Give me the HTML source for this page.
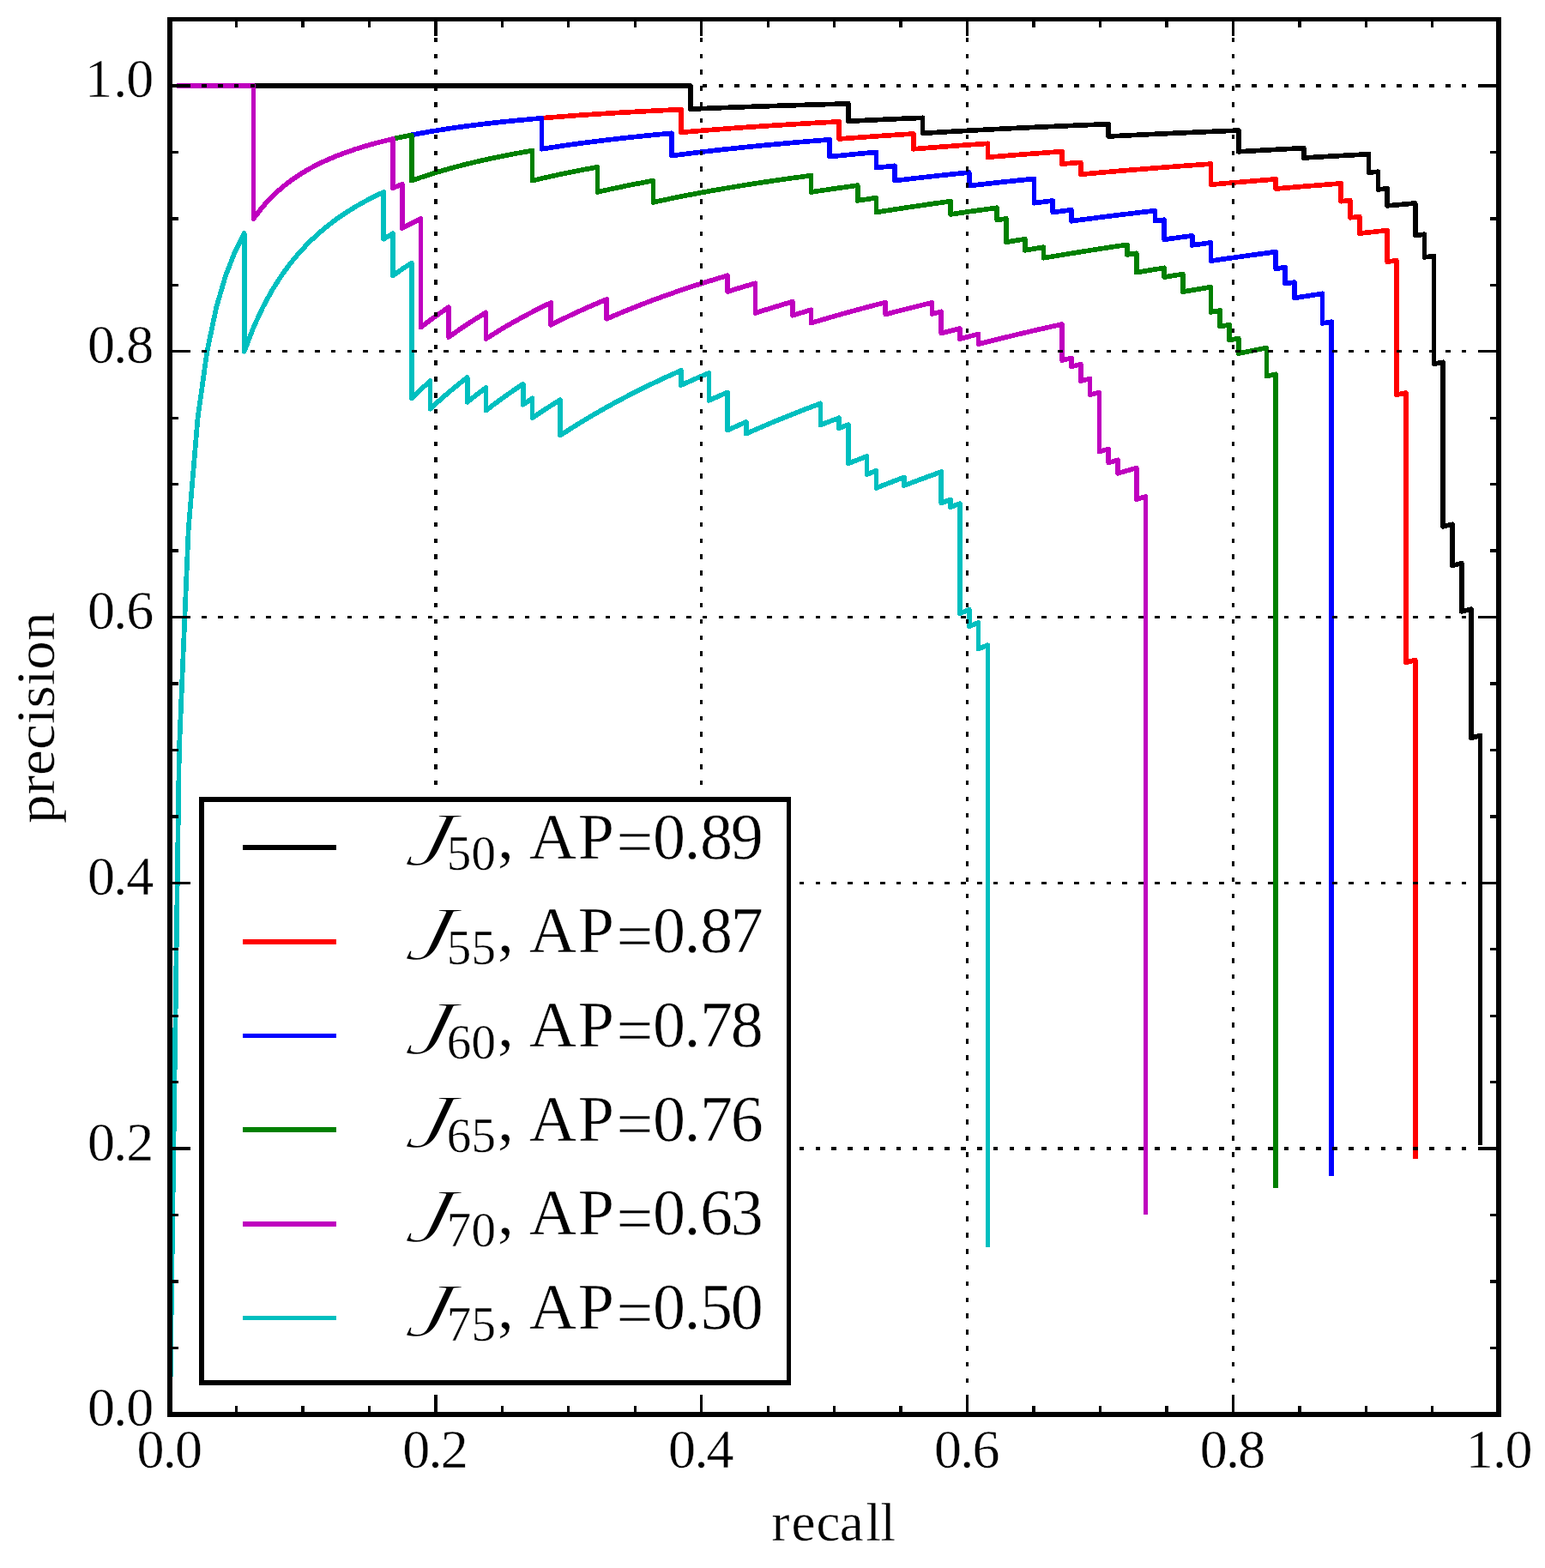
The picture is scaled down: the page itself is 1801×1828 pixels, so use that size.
<!DOCTYPE html>
<html lang="en"><head><meta charset="utf-8"><title>Precision-recall curves</title>
<style>
html,body{margin:0;padding:0;background:#fff;}
body{width:1801px;height:1828px;overflow:hidden;}
svg{display:block;}
text{font-family:"Liberation Serif","DejaVu Serif",serif;fill:#000;stroke:#fff;stroke-width:0.4px;stroke-linejoin:round;}
.tk{font-size:64px;}
.lb{font-size:63px;}
.lg{font-size:76px;stroke-width:0.5px;}
.sub{font-size:57px;}
.cal{font-family:"Liberation Serif","DejaVu Serif",serif;font-style:italic;font-size:90px;stroke-width:2px;}
.cv{fill:none;stroke-width:5.70;stroke-linejoin:round;stroke-linecap:square;}
.gh{fill:none;stroke:#000;stroke-width:3.35;stroke-dasharray:5.7 13.13;}
.gv{fill:none;stroke:#000;stroke-width:3.35;stroke-dasharray:5.5 13.33;}
.tkm{stroke:#000;stroke-width:3.35;fill:none;}
.sp{stroke:#000;fill:none;}
</style></head><body>
<svg width="1801" height="1828" viewBox="0 0 1801 1828" shape-rendering="crispEdges">
<rect x="0" y="0" width="1801" height="1828" fill="#fff"/>
<defs><clipPath id="ax"><rect x="198.00" y="22.40" width="1549.10" height="1626.65"/></clipPath></defs>
<g clip-path="url(#ax)">
<path class="cv" stroke="#000000" d="M208.88 100.00L219.72 100.00L230.55 100.00L241.38 100.00L252.22 100.00L263.05 100.00L273.88 100.00L284.72 100.00L295.55 100.00L306.39 100.00L317.22 100.00L328.05 100.00L338.89 100.00L349.72 100.00L360.55 100.00L371.39 100.00L382.22 100.00L393.05 100.00L403.89 100.00L414.72 100.00L425.55 100.00L436.39 100.00L447.22 100.00L458.06 100.00L468.89 100.00L479.72 100.00L490.56 100.00L501.39 100.00L512.22 100.00L523.06 100.00L533.89 100.00L544.72 100.00L555.56 100.00L566.39 100.00L577.22 100.00L588.06 100.00L598.89 100.00L609.73 100.00L620.56 100.00L631.39 100.00L642.23 100.00L653.06 100.00L663.89 100.00L674.73 100.00L685.56 100.00L696.39 100.00L707.23 100.00L718.06 100.00L728.89 100.00L739.73 100.00L750.56 100.00L761.40 100.00L772.23 100.00L783.06 100.00L793.90 100.00L804.73 100.00L804.73 127.17L815.56 126.71L826.40 126.25L837.23 125.82L848.06 125.39L858.90 124.98L869.73 124.59L880.56 124.20L891.40 123.83L902.23 123.47L913.07 123.12L923.90 122.78L934.73 122.45L945.57 122.13L956.40 121.82L967.23 121.51L978.07 121.22L988.90 120.93L988.90 141.31L999.73 140.76L1010.57 140.23L1021.40 139.72L1032.23 139.21L1043.07 138.72L1053.90 138.25L1064.74 137.78L1075.57 137.32L1075.57 155.32L1086.40 154.67L1097.24 154.03L1108.07 153.41L1118.90 152.81L1129.74 152.21L1140.57 151.63L1151.40 151.06L1162.24 150.51L1173.07 149.97L1183.90 149.43L1194.74 148.91L1205.57 148.40L1216.41 147.91L1227.24 147.42L1238.07 146.94L1248.91 146.47L1259.74 146.01L1270.57 145.56L1281.41 145.12L1292.24 144.68L1292.24 159.01L1303.07 158.45L1313.91 157.90L1324.74 157.37L1335.57 156.84L1346.41 156.33L1357.24 155.82L1368.08 155.32L1378.91 154.83L1389.74 154.35L1400.58 153.88L1411.41 153.41L1422.24 152.96L1433.08 152.51L1443.91 152.07L1443.91 176.81L1454.74 176.18L1465.58 175.56L1476.41 174.95L1487.24 174.35L1498.08 173.76L1508.91 173.18L1519.75 172.61L1519.75 184.05L1530.58 183.40L1541.41 182.77L1552.25 182.14L1563.08 181.52L1573.91 180.92L1584.75 180.32L1595.58 179.73L1595.58 201.02L1606.41 200.29L1606.41 220.84L1617.25 219.99L1617.25 239.84L1628.08 238.87L1638.91 237.92L1649.75 236.98L1649.75 274.39L1660.58 273.24L1660.58 299.86L1671.42 298.58L1671.42 424.20L1682.25 422.32L1682.25 613.80L1693.08 611.30L1693.08 659.34L1703.92 656.77L1703.92 712.85L1714.75 710.19L1714.75 860.39L1725.58 857.64L1725.58 1332.43"/>
<path class="cv" stroke="#ff0000" d="M208.88 100.00L219.72 100.00L230.55 100.00L241.38 100.00L252.22 100.00L263.05 100.00L273.88 100.00L284.72 100.00L295.55 100.00L295.55 254.89L306.39 240.81L317.22 229.08L328.05 219.15L338.89 210.64L349.72 203.26L360.55 196.81L371.39 191.11L382.22 186.05L393.05 181.52L403.89 177.45L414.72 173.76L425.55 170.41L436.39 167.35L447.22 164.54L458.06 161.96L468.89 159.58L479.72 157.37L490.56 155.32L501.39 153.41L512.22 151.63L523.06 149.97L533.89 148.40L544.72 146.94L555.56 145.56L566.39 144.26L577.22 143.03L588.06 141.86L598.89 140.76L609.73 139.72L620.56 138.72L631.39 137.78L642.23 136.88L653.06 136.02L663.89 135.20L674.73 134.42L685.56 133.67L696.39 132.96L707.23 132.27L718.06 131.61L728.89 130.98L739.73 130.37L750.56 129.79L761.40 129.23L772.23 128.68L783.06 128.16L793.90 127.66L793.90 154.35L804.73 153.41L815.56 152.51L826.40 151.63L837.23 150.79L848.06 149.97L858.90 149.17L869.73 148.40L880.56 147.66L891.40 146.94L902.23 146.24L913.07 145.56L923.90 144.90L934.73 144.26L945.57 143.63L956.40 143.03L967.23 142.44L978.07 141.86L978.07 161.96L988.90 161.14L999.73 160.35L1010.57 159.58L1021.40 158.82L1032.23 158.09L1043.07 157.37L1053.90 156.67L1064.74 155.99L1064.74 173.76L1075.57 172.89L1086.40 172.04L1097.24 171.22L1108.07 170.41L1118.90 169.62L1129.74 168.84L1140.57 168.09L1151.40 167.35L1151.40 183.28L1162.24 182.39L1173.07 181.52L1183.90 180.67L1194.74 179.84L1205.57 179.03L1216.41 178.23L1227.24 177.45L1238.07 176.68L1238.07 191.11L1248.91 190.23L1259.74 189.36L1259.74 203.26L1270.57 202.29L1281.41 201.33L1292.24 200.39L1303.07 199.47L1313.91 198.57L1324.74 197.68L1335.57 196.81L1346.41 195.95L1357.24 195.11L1368.08 194.28L1378.91 193.47L1389.74 192.67L1400.58 191.89L1411.41 191.11L1411.41 215.21L1422.24 214.27L1433.08 213.34L1443.91 212.42L1454.74 211.52L1465.58 210.64L1476.41 209.77L1487.24 208.91L1487.24 220.07L1498.08 219.15L1508.91 218.24L1519.75 217.34L1530.58 216.46L1541.41 215.59L1552.25 214.74L1563.08 213.89L1563.08 234.69L1573.91 233.72L1573.91 253.80L1584.75 252.71L1584.75 272.11L1595.58 270.92L1606.41 269.75L1617.25 268.59L1617.25 305.16L1628.08 303.81L1628.08 460.22L1638.91 458.14L1638.91 772.31L1649.75 769.46L1649.75 1348.14"/>
<path class="cv" stroke="#0000ff" d="M208.88 100.00L219.72 100.00L230.55 100.00L241.38 100.00L252.22 100.00L263.05 100.00L273.88 100.00L284.72 100.00L295.55 100.00L295.55 254.89L306.39 240.81L317.22 229.08L328.05 219.15L338.89 210.64L349.72 203.26L360.55 196.81L371.39 191.11L382.22 186.05L393.05 181.52L403.89 177.45L414.72 173.76L425.55 170.41L436.39 167.35L447.22 164.54L458.06 161.96L468.89 159.58L479.72 157.37L490.56 155.32L501.39 153.41L512.22 151.63L523.06 149.97L533.89 148.40L544.72 146.94L555.56 145.56L566.39 144.26L577.22 143.03L588.06 141.86L598.89 140.76L609.73 139.72L620.56 138.72L631.39 137.78L631.39 173.76L642.23 172.04L653.06 170.41L663.89 168.84L674.73 167.35L685.56 165.91L696.39 164.54L707.23 163.22L718.06 161.96L728.89 160.74L739.73 159.58L750.56 158.45L761.40 157.37L772.23 156.33L783.06 155.32L783.06 181.52L793.90 180.12L804.73 178.76L815.56 177.45L826.40 176.18L837.23 174.95L848.06 173.76L858.90 172.61L869.73 171.49L880.56 170.41L891.40 169.36L902.23 168.34L913.07 167.35L923.90 166.38L934.73 165.45L945.57 164.54L956.40 163.66L967.23 162.80L967.23 182.61L978.07 181.52L988.90 180.46L999.73 179.43L1010.57 178.43L1021.40 177.45L1021.40 195.61L1032.23 194.45L1043.07 193.31L1043.07 210.64L1053.90 209.34L1064.74 208.07L1075.57 206.82L1086.40 205.61L1097.24 204.42L1108.07 203.26L1118.90 202.13L1129.74 201.02L1129.74 216.59L1140.57 215.35L1151.40 214.13L1162.24 212.94L1173.07 211.78L1183.90 210.64L1194.74 209.52L1205.57 208.43L1205.57 236.67L1216.41 235.35L1227.24 234.04L1227.24 247.52L1238.07 246.13L1248.91 244.76L1248.91 257.76L1259.74 256.32L1270.57 254.89L1281.41 253.50L1292.24 252.13L1303.07 250.78L1313.91 249.46L1324.74 248.16L1335.57 246.88L1346.41 245.63L1346.41 257.52L1357.24 256.20L1357.24 279.22L1368.08 277.75L1378.91 276.30L1389.74 274.88L1389.74 285.87L1400.58 284.40L1411.41 282.95L1411.41 304.13L1422.24 302.56L1433.08 301.01L1443.91 299.49L1454.74 297.99L1465.58 296.51L1476.41 295.05L1487.24 293.62L1487.24 313.26L1498.08 311.73L1498.08 330.69L1508.91 329.07L1508.91 347.40L1519.75 345.70L1530.58 344.01L1541.41 342.35L1541.41 376.96L1552.25 375.14L1552.25 1368.34"/>
<path class="cv" stroke="#008000" d="M208.88 100.00L219.72 100.00L230.55 100.00L241.38 100.00L252.22 100.00L263.05 100.00L273.88 100.00L284.72 100.00L295.55 100.00L295.55 254.89L306.39 240.81L317.22 229.08L328.05 219.15L338.89 210.64L349.72 203.26L360.55 196.81L371.39 191.11L382.22 186.05L393.05 181.52L403.89 177.45L414.72 173.76L425.55 170.41L436.39 167.35L447.22 164.54L458.06 161.96L468.89 159.58L479.72 157.37L479.72 210.64L490.56 206.82L501.39 203.26L512.22 199.93L523.06 196.81L533.89 193.88L544.72 191.11L555.56 188.51L566.39 186.05L577.22 183.73L588.06 181.52L598.89 179.43L609.73 177.45L620.56 175.56L620.56 210.64L631.39 208.07L642.23 205.61L653.06 203.26L663.89 201.02L674.73 198.87L685.56 196.81L696.39 194.83L696.39 223.92L707.23 221.49L718.06 219.15L728.89 216.90L739.73 214.74L750.56 212.65L761.40 210.64L761.40 235.87L772.23 233.53L783.06 231.27L793.90 229.08L804.73 226.96L815.56 224.92L826.40 222.93L837.23 221.01L848.06 219.15L858.90 217.34L869.73 215.59L880.56 213.89L891.40 212.24L902.23 210.64L913.07 209.08L923.90 207.57L934.73 206.09L945.57 204.66L945.57 223.92L956.40 222.29L967.23 220.70L978.07 219.15L988.90 217.64L999.73 216.17L999.73 233.86L1010.57 232.23L1021.40 230.63L1021.40 247.52L1032.23 245.78L1043.07 244.09L1053.90 242.43L1064.74 240.81L1075.57 239.23L1086.40 237.68L1097.24 236.17L1108.07 234.69L1108.07 249.90L1118.90 248.30L1129.74 246.74L1140.57 245.21L1151.40 243.72L1162.24 242.25L1162.24 256.46L1173.07 254.89L1173.07 282.23L1183.90 280.46L1194.74 278.73L1194.74 291.77L1205.57 289.97L1216.41 288.19L1216.41 300.79L1227.24 298.95L1238.07 297.14L1248.91 295.36L1259.74 293.62L1270.57 291.91L1281.41 290.22L1292.24 288.57L1303.07 286.94L1313.91 285.34L1313.91 296.90L1324.74 295.25L1324.74 317.62L1335.57 315.84L1346.41 314.08L1357.24 312.36L1357.24 323.05L1368.08 321.28L1378.91 319.54L1378.91 340.15L1389.74 338.30L1400.58 336.48L1411.41 334.69L1411.41 363.90L1422.24 361.95L1422.24 380.61L1433.08 378.59L1433.08 396.61L1443.91 394.52L1443.91 411.94L1454.74 409.79L1465.58 407.67L1476.41 405.58L1476.41 438.51L1487.24 436.29L1487.24 1381.81"/>
<path class="cv" stroke="#bf00bf" d="M208.88 100.00L219.72 100.00L230.55 100.00L241.38 100.00L252.22 100.00L263.05 100.00L273.88 100.00L284.72 100.00L295.55 100.00L295.55 254.89L306.39 240.81L317.22 229.08L328.05 219.15L338.89 210.64L349.72 203.26L360.55 196.81L371.39 191.11L382.22 186.05L393.05 181.52L403.89 177.45L414.72 173.76L425.55 170.41L436.39 167.35L447.22 164.54L458.06 161.96L458.06 219.15L468.89 214.74L468.89 265.96L479.72 260.24L490.56 254.89L490.56 381.63L501.39 373.34L512.22 365.53L523.06 358.16L523.06 393.04L533.89 385.33L544.72 378.02L555.56 371.07L566.39 364.45L566.39 395.04L577.22 388.18L588.06 381.63L598.89 375.37L609.73 369.38L620.56 363.65L631.39 358.16L642.23 352.89L642.23 378.81L653.06 373.34L663.89 368.09L674.73 363.03L685.56 358.16L696.39 353.46L707.23 348.94L707.23 371.75L718.06 367.06L728.89 362.53L739.73 358.16L750.56 353.93L761.40 349.83L772.23 345.87L783.06 342.02L793.90 338.30L804.73 334.69L815.56 331.19L826.40 327.79L837.23 324.49L848.06 321.28L848.06 339.98L858.90 336.65L869.73 333.40L880.56 330.25L880.56 364.95L891.40 361.51L902.23 358.16L913.07 354.89L923.90 351.70L923.90 367.72L934.73 364.45L945.57 361.27L945.57 376.60L956.40 373.34L967.23 370.17L978.07 367.06L988.90 364.03L999.73 361.06L1010.57 358.16L1021.40 355.32L1032.23 352.55L1032.23 366.49L1043.07 363.65L1053.90 360.88L1064.74 358.16L1075.57 355.50L1086.40 352.89L1086.40 365.98L1097.24 363.32L1097.24 388.53L1108.07 385.73L1118.90 382.98L1118.90 395.04L1129.74 392.25L1140.57 389.52L1140.57 401.18L1151.40 398.42L1162.24 395.71L1173.07 393.04L1183.90 390.43L1194.74 387.86L1205.57 385.33L1216.41 382.85L1227.24 380.41L1238.07 378.02L1238.07 420.03L1248.91 417.41L1248.91 427.42L1259.74 424.78L1259.74 444.21L1270.57 441.50L1270.57 460.22L1281.41 457.45L1281.41 526.52L1292.24 523.45L1292.24 539.42L1303.07 536.32L1303.07 551.78L1313.91 548.66L1324.74 545.59L1324.74 582.12L1335.57 578.95L1335.57 1413.24"/>
<path class="cv" stroke="#00bfbf" d="M198.05 1648.95L208.88 874.48L219.72 616.32L230.55 487.24L241.38 409.79L252.22 358.16L263.05 321.28L273.88 293.62L284.72 272.11L284.72 409.79L295.55 381.63L306.39 358.16L317.22 338.30L328.05 321.28L338.89 306.53L349.72 293.62L360.55 282.23L371.39 272.11L382.22 263.05L393.05 254.89L403.89 247.52L414.72 240.81L425.55 234.69L436.39 229.08L447.22 223.92L447.22 278.73L458.06 272.11L458.06 321.28L468.89 313.65L479.72 306.53L479.72 464.46L490.56 454.05L501.39 444.21L501.39 476.77L512.22 466.86L523.06 457.45L533.89 448.51L544.72 440.01L544.72 468.80L555.56 460.22L566.39 452.03L566.39 478.63L577.22 470.40L588.06 462.52L598.89 454.97L609.73 447.72L609.73 471.75L620.56 464.46L620.56 487.24L631.39 479.93L642.23 472.90L653.06 466.12L653.06 507.62L663.89 500.59L674.73 493.80L685.56 487.24L696.39 480.89L707.23 474.75L718.06 468.80L728.89 463.04L739.73 457.45L750.56 452.03L761.40 446.78L772.23 441.68L783.06 436.73L793.90 431.92L793.90 449.06L804.73 444.21L815.56 439.50L826.40 434.91L826.40 466.86L837.23 462.09L848.06 457.45L848.06 501.58L858.90 496.68L869.73 491.90L869.73 505.68L880.56 500.90L891.40 496.24L902.23 491.69L913.07 487.24L923.90 482.89L934.73 478.63L945.57 474.47L956.40 470.40L956.40 495.48L967.23 491.31L978.07 487.24L978.07 499.21L988.90 495.14L988.90 540.39L999.73 536.11L1010.57 531.92L1010.57 552.99L1021.40 548.76L1021.40 568.95L1032.23 564.69L1043.07 560.50L1053.90 556.39L1053.90 566.06L1064.74 561.97L1075.57 557.95L1086.40 554.00L1097.24 550.12L1097.24 586.45L1108.07 582.46L1108.07 591.13L1118.90 587.17L1118.90 715.19L1129.74 710.85L1129.74 730.26L1140.57 725.95L1140.57 756.51L1151.40 752.19L1151.40 1451.40"/>
</g>
<path class="gv" d="M507.89 1649.85V22.40M817.73 1649.85V22.40M1127.57 1649.85V22.40M1437.41 1649.85V22.40"/>
<path class="gh" d="M197.37 1339.16H1747.10M197.37 1029.37H1747.10M197.37 719.58H1747.10M197.37 409.79H1747.10M197.37 100.00H1747.10"/>
<path class="tkm" d="M198.05 1649.05v-19.33M198.05 22.40v19.33M275.51 1649.05v-9.92M275.51 22.40v9.92M352.97 1649.05v-9.92M352.97 22.40v9.92M430.43 1649.05v-9.92M430.43 22.40v9.92M507.89 1649.05v-19.33M507.89 22.40v19.33M585.35 1649.05v-9.92M585.35 22.40v9.92M662.81 1649.05v-9.92M662.81 22.40v9.92M740.27 1649.05v-9.92M740.27 22.40v9.92M817.73 1649.05v-19.33M817.73 22.40v19.33M895.19 1649.05v-9.92M895.19 22.40v9.92M972.65 1649.05v-9.92M972.65 22.40v9.92M1050.11 1649.05v-9.92M1050.11 22.40v9.92M1127.57 1649.05v-19.33M1127.57 22.40v19.33M1205.03 1649.05v-9.92M1205.03 22.40v9.92M1282.49 1649.05v-9.92M1282.49 22.40v9.92M1359.95 1649.05v-9.92M1359.95 22.40v9.92M1437.41 1649.05v-19.33M1437.41 22.40v19.33M1514.87 1649.05v-9.92M1514.87 22.40v9.92M1592.33 1649.05v-9.92M1592.33 22.40v9.92M1669.79 1649.05v-9.92M1669.79 22.40v9.92M1747.25 1649.05v-19.33M1747.25 22.40v19.33M198.00 1648.95h19.33M1747.10 1648.95h-19.33M198.00 1571.50h9.92M1747.10 1571.50h-9.92M198.00 1494.06h9.92M1747.10 1494.06h-9.92M198.00 1416.61h9.92M1747.10 1416.61h-9.92M198.00 1339.16h19.33M1747.10 1339.16h-19.33M198.00 1261.71h9.92M1747.10 1261.71h-9.92M198.00 1184.26h9.92M1747.10 1184.26h-9.92M198.00 1106.82h9.92M1747.10 1106.82h-9.92M198.00 1029.37h19.33M1747.10 1029.37h-19.33M198.00 951.92h9.92M1747.10 951.92h-9.92M198.00 874.48h9.92M1747.10 874.48h-9.92M198.00 797.03h9.92M1747.10 797.03h-9.92M198.00 719.58h19.33M1747.10 719.58h-19.33M198.00 642.13h9.92M1747.10 642.13h-9.92M198.00 564.68h9.92M1747.10 564.68h-9.92M198.00 487.24h9.92M1747.10 487.24h-9.92M198.00 409.79h19.33M1747.10 409.79h-19.33M198.00 332.34h9.92M1747.10 332.34h-9.92M198.00 254.89h9.92M1747.10 254.89h-9.92M198.00 177.45h9.92M1747.10 177.45h-9.92M198.00 100.00h19.33M1747.10 100.00h-19.33M198.00 22.55h9.92M1747.10 22.55h-9.92"/>
<path class="sp" stroke-width="5.7" d="M198 20V1652M1747.1 20V1652M195 22.45H1750M195 1649H1750"/>
<text class="tk" y="1711.3" x="159.5 189.8 204.0">0.0</text>
<text class="tk" y="1662.2" x="102.1 132.3 147.2">0.0</text>
<text class="tk" y="1711.3" x="469.3 499.6 513.8">0.2</text>
<text class="tk" y="1352.5" x="102.1 132.3 147.2">0.2</text>
<text class="tk" y="1711.3" x="779.1 809.4 823.6">0.4</text>
<text class="tk" y="1042.7" x="102.1 132.3 147.2">0.4</text>
<text class="tk" y="1711.3" x="1089.0 1119.3 1133.5">0.6</text>
<text class="tk" y="732.9" x="102.1 132.3 147.2">0.6</text>
<text class="tk" y="1711.3" x="1398.8 1429.1 1443.3">0.8</text>
<text class="tk" y="423.1" x="102.1 132.3 147.2">0.8</text>
<text class="tk" y="1711.3" x="1708.7 1739.9 1754.4">1.0</text>
<text class="tk" y="113.3" x="99.1 132.3 147.2">1.0</text>
<text class="lb" x="899.6 922.6 951.4 978.7 1009.5 1026.4" y="1795.9">recall</text>
<text class="lb" transform="translate(62.6 959.9) rotate(-90)" x="0" y="0" textLength="246.5" lengthAdjust="spacingAndGlyphs">precision</text>
<rect x="232" y="929" width="690" height="686" fill="#fff"/>
<path class="sp" stroke-width="5.7" d="M235 929V1615M919.5 929V1615M232 932H922M232 1612H922"/>
<g>
<path d="M283.2 988.16H392" stroke="#000000" stroke-width="5.70" fill="none"/>
<text class="cal" transform="translate(470.5 1009.4) skewX(-14) scale(1.25 1)">J</text>
<text y="1000.6"><tspan class="sub" x="520.7 549.4" dy="13.7 0">50</tspan><tspan class="lg" x="580 600 617.1 673.8 718.6 761.1 797.6 816 851.8" dy="-13.7 0 0 0 6.6 -6.6 0 0 0">, AP=0.89</tspan></text>
</g>
<g>
<path d="M283.2 1097.83H392" stroke="#ff0000" stroke-width="5.70" fill="none"/>
<text class="cal" transform="translate(470.5 1119.1) skewX(-14) scale(1.25 1)">J</text>
<text y="1110.3"><tspan class="sub" x="520.7 549.4" dy="13.7 0">55</tspan><tspan class="lg" x="580 600 617.1 673.8 718.6 761.1 797.6 816 851.8" dy="-13.7 0 0 0 6.6 -6.6 0 0 0">, AP=0.87</tspan></text>
</g>
<g>
<path d="M283.2 1207.50H392" stroke="#0000ff" stroke-width="5.70" fill="none"/>
<text class="cal" transform="translate(470.5 1228.8) skewX(-14) scale(1.25 1)">J</text>
<text y="1220.0"><tspan class="sub" x="520.7 549.4" dy="13.7 0">60</tspan><tspan class="lg" x="580 600 617.1 673.8 718.6 761.1 797.6 816 851.8" dy="-13.7 0 0 0 6.6 -6.6 0 0 0">, AP=0.78</tspan></text>
</g>
<g>
<path d="M283.2 1317.17H392" stroke="#008000" stroke-width="5.70" fill="none"/>
<text class="cal" transform="translate(470.5 1338.4) skewX(-14) scale(1.25 1)">J</text>
<text y="1329.6"><tspan class="sub" x="520.7 549.4" dy="13.7 0">65</tspan><tspan class="lg" x="580 600 617.1 673.8 718.6 761.1 797.6 816 851.8" dy="-13.7 0 0 0 6.6 -6.6 0 0 0">, AP=0.76</tspan></text>
</g>
<g>
<path d="M283.2 1426.84H392" stroke="#bf00bf" stroke-width="5.70" fill="none"/>
<text class="cal" transform="translate(470.5 1448.1) skewX(-14) scale(1.25 1)">J</text>
<text y="1439.3"><tspan class="sub" x="520.7 549.4" dy="13.7 0">70</tspan><tspan class="lg" x="580 600 617.1 673.8 718.6 761.1 797.6 816 851.8" dy="-13.7 0 0 0 6.6 -6.6 0 0 0">, AP=0.63</tspan></text>
</g>
<g>
<path d="M283.2 1536.51H392" stroke="#00bfbf" stroke-width="5.70" fill="none"/>
<text class="cal" transform="translate(470.5 1557.8) skewX(-14) scale(1.25 1)">J</text>
<text y="1549.0"><tspan class="sub" x="520.7 549.4" dy="13.7 0">75</tspan><tspan class="lg" x="580 600 617.1 673.8 718.6 761.1 797.6 816 851.8" dy="-13.7 0 0 0 6.6 -6.6 0 0 0">, AP=0.50</tspan></text>
</g>
</svg>
</body></html>
